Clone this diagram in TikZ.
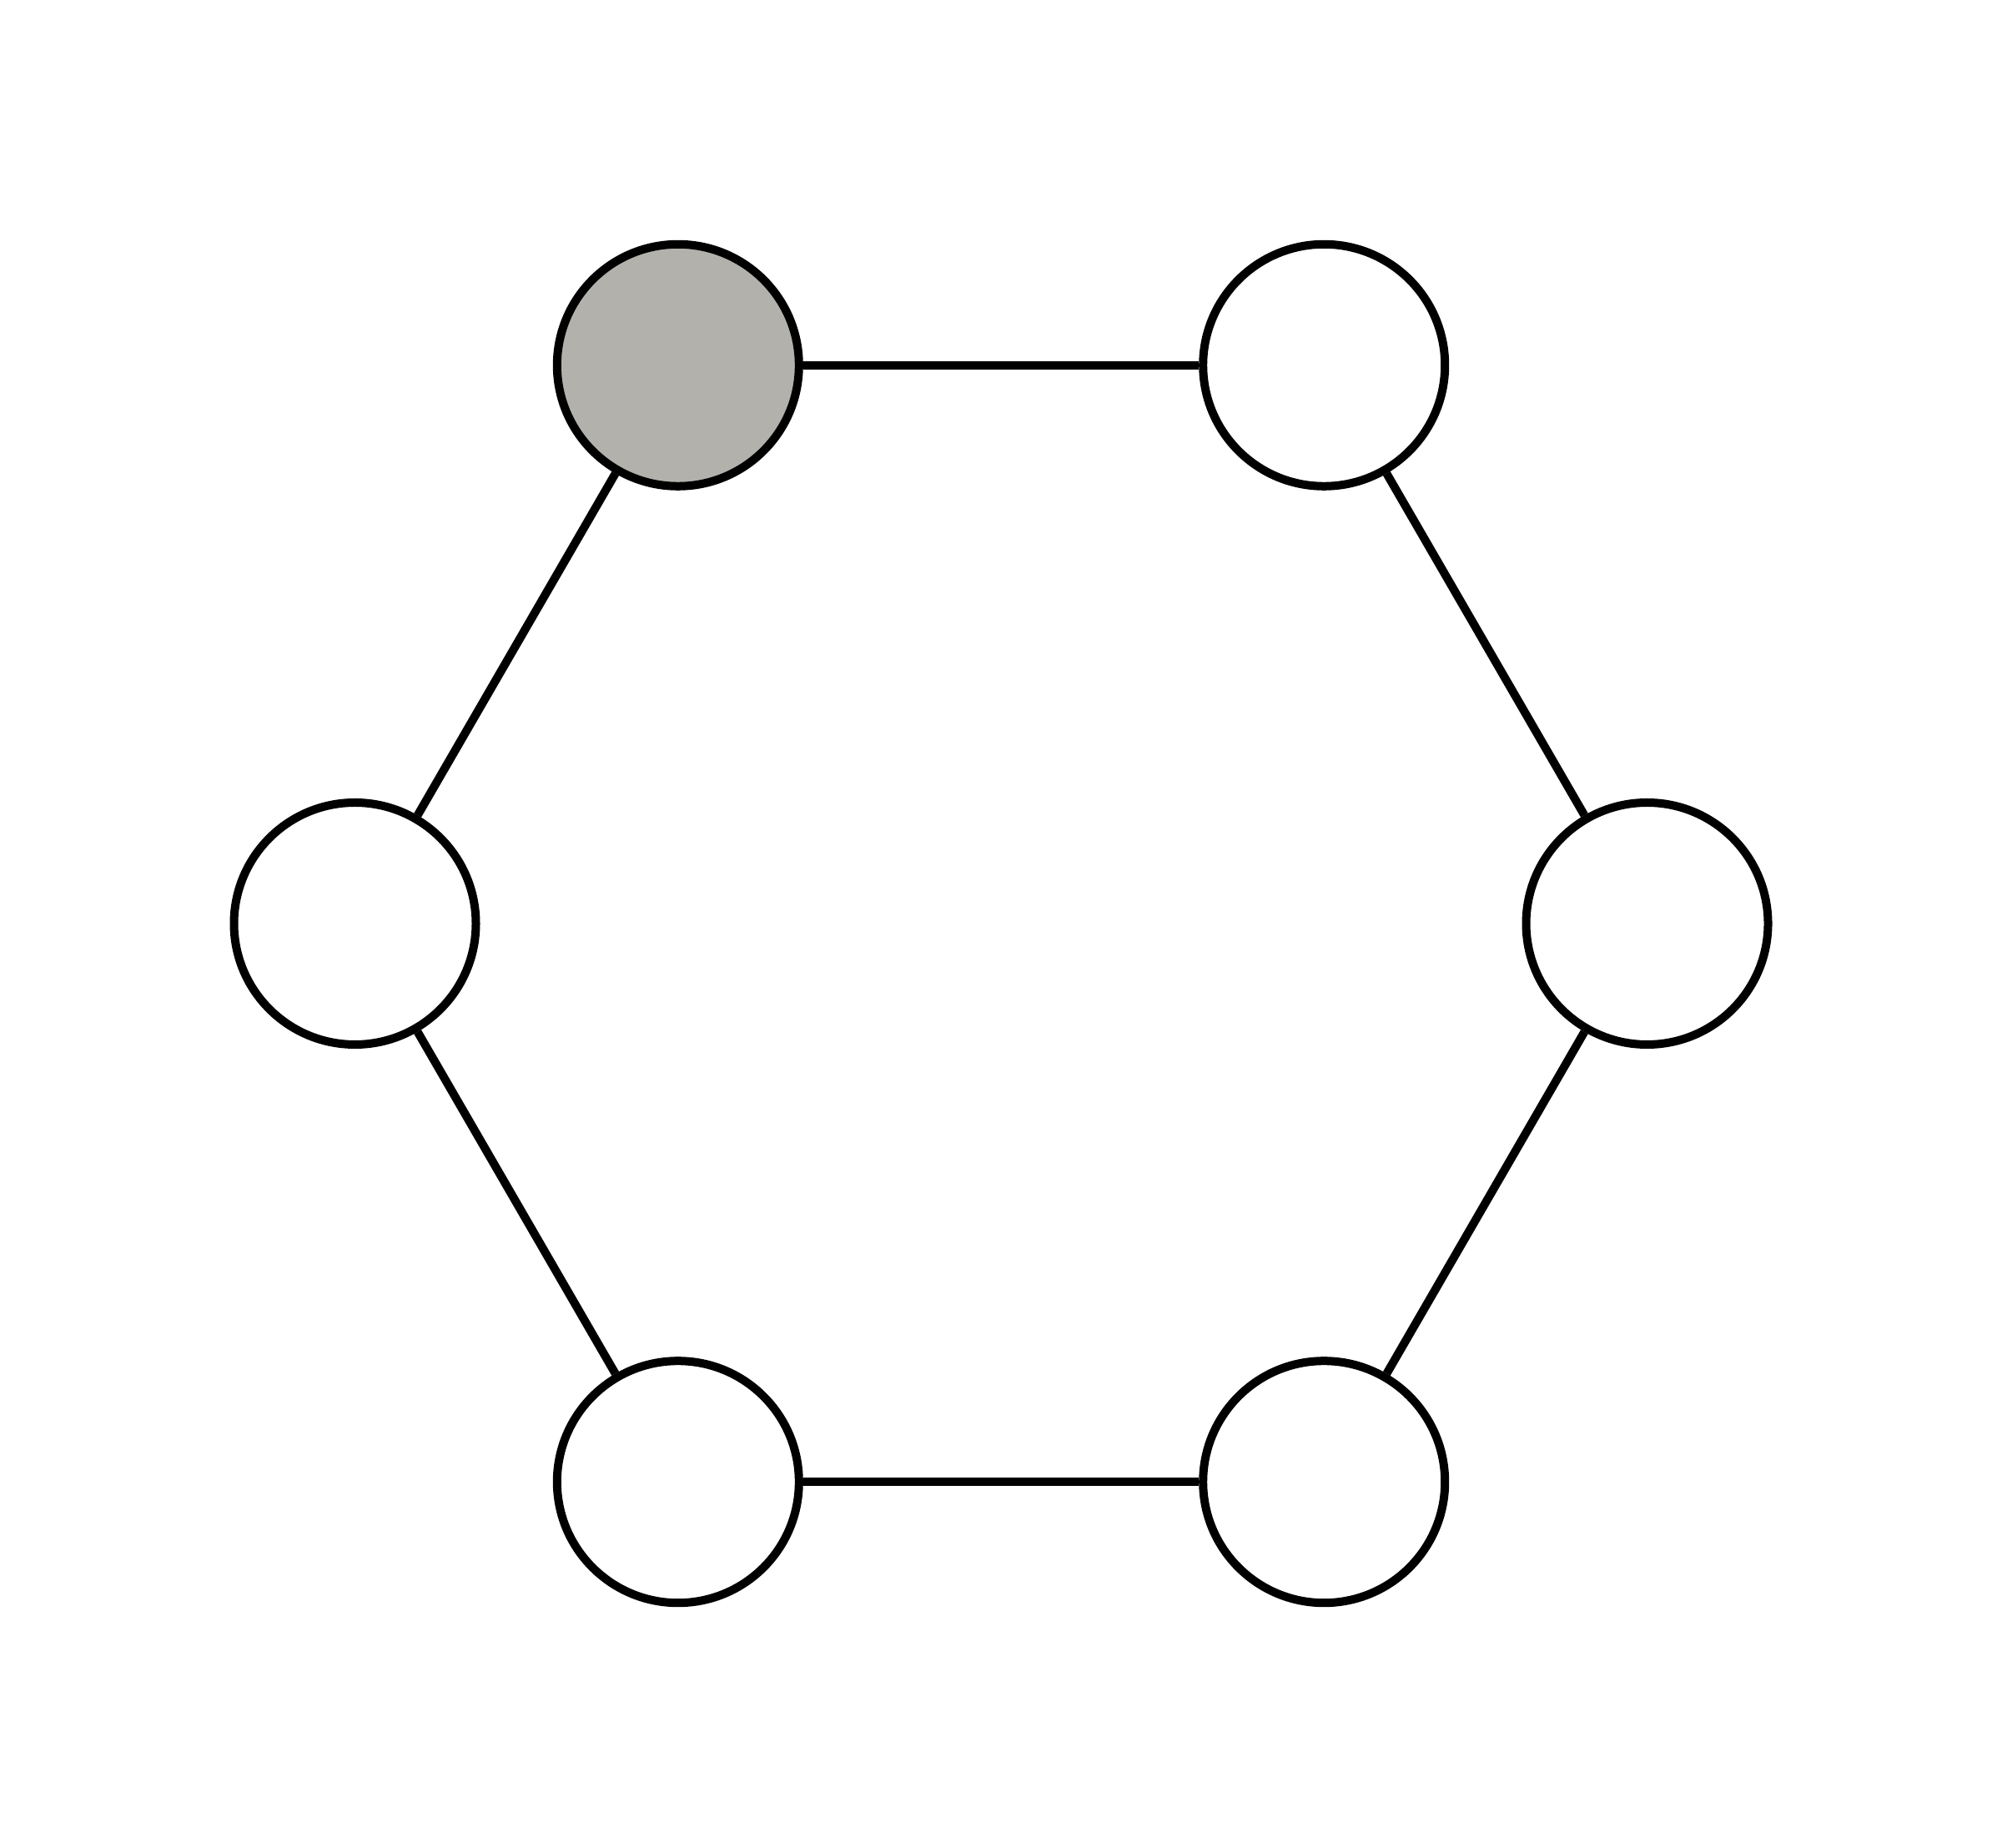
\documentclass[tikz,border=0pt]{standalone}
\usepackage{tikz}
\usetikzlibrary{calc, positioning}
\definecolor{visitgray}{RGB}{178,177,171}
\tikzset{
    vtx/.style={circle, draw, line width=0.1cm, fill=white, inner sep=0pt, minimum size=2.9cm},
    vtxSeen/.style={vtx, fill=visitgray},
    ringEdge/.style={line width=0.1cm},
}

\begin{document}
\begin{tikzpicture}
    \useasboundingbox (0,0) rectangle (24,22.14);

    % vertices
    \node[vtxSeen] (v1) at (8.128,17.762) {};
    \node[vtx] (v2) at (15.872,17.762) {};
    \node[vtx] (v3) at (19.745,11.07) {};
    \node[vtx] (v4) at (15.872,4.378) {};
    \node[vtx] (v5) at (8.128,4.378) {};
    \node[vtx] (v6) at (4.255,11.07) {};

    % ring
    \draw[ringEdge] (v1) -- (v2);
    \draw[ringEdge] (v2) -- (v3);
    \draw[ringEdge] (v3) -- (v4);
    \draw[ringEdge] (v4) -- (v5);
    \draw[ringEdge] (v5) -- (v6);
    \draw[ringEdge] (v6) -- (v1);

\end{tikzpicture}
\end{document}
